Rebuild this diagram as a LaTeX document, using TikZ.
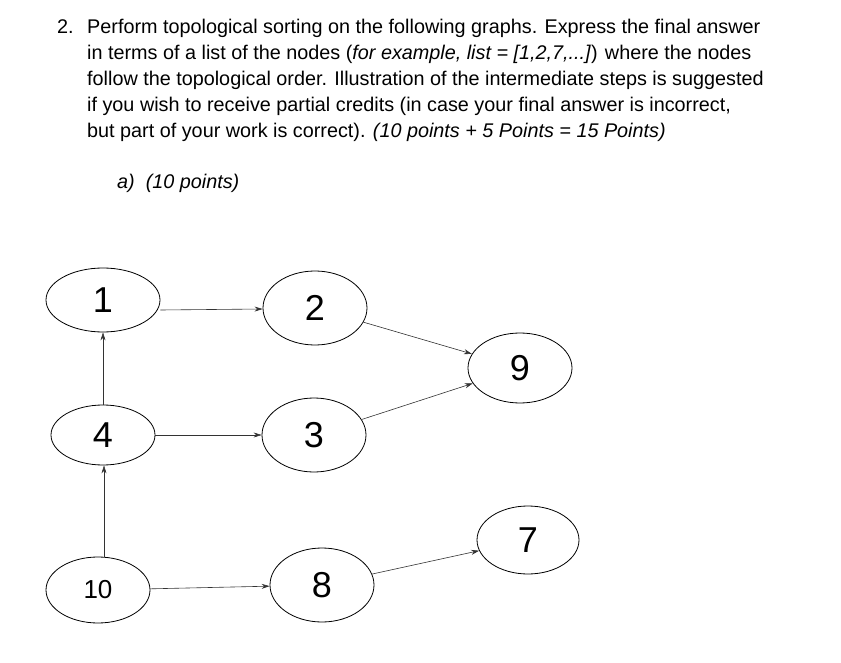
\documentclass[tikz,border=0pt]{standalone}
\usepackage{fontspec}
\setmainfont{Liberation Sans}
\usetikzlibrary{arrows.meta,shapes.geometric}
\begin{document}
\begin{tikzpicture}[x=1pt,y=-1pt,
  txt/.style={anchor=base west,inner sep=0pt,font=\fontsize{19.8}{22}\selectfont},
  vtx/.style={draw,ellipse,thick,inner sep=0pt,font=\fontsize{36}{38}\selectfont},
  edge/.style={draw=black!80,line width=0.6pt,-{Stealth[length=8pt,width=5pt]}}]
\useasboundingbox[fill=white] (0,0) rectangle (841,663);
\node[txt] (t0) at (57,34) {2.};
\node[txt] (t1) at (87,34) {Perform topological sorting on the following graphs. Express the final answer};
\node[txt] (t2) at (87,60) {in terms of a list of the nodes (\textit{for example, list = [1,2,7,...]}) where the nodes};
\node[txt] (t3) at (87,86) {follow the topological order. Illustration of the intermediate steps is suggested};
\node[txt] (t4) at (87,112) {if you wish to receive partial credits (in case your final answer is incorrect,};
\node[txt] (t5) at (87,138) {but part of your work is correct). \textit{(10 points + 5 Points = 15 Points)}};
\node[txt] (t6) at (117,189) {\textit{a)\ \ (10 points)}};
\node[vtx,minimum width=114,minimum height=64] (n1) at (103,300) {1};
\node[vtx,minimum width=104,minimum height=74] (n2) at (315,308) {2};
\node[vtx,minimum width=104,minimum height=70] (n9) at (520,368) {9};
\node[vtx,minimum width=104,minimum height=60] (n4) at (103,435) {4};
\node[vtx,minimum width=104,minimum height=74] (n3) at (314,435) {3};
\node[vtx,minimum width=102,minimum height=68] (n7) at (528,540) {7};
\node[vtx,minimum width=104,minimum height=66,font=\fontsize{26}{28}\selectfont] (n10) at (98,590) {10};
\node[vtx,minimum width=104,minimum height=74] (n8) at (322,585) {8};
\draw[edge] (n1.east |- 0,310) -- (n2.west |- 0,309);
\draw[edge] (n2) -- (n9);
\draw[edge] (n3) -- (n9);
\draw[edge] (n4) -- (n1);
\draw[edge] (n4) -- (n3);
\draw[edge] (n10.north -| 104,0) -- (n4.south -| 104,0);
\draw[edge] (n10) -- (n8);
\draw[edge] (n8) -- (n7);
\end{tikzpicture}
\end{document}
